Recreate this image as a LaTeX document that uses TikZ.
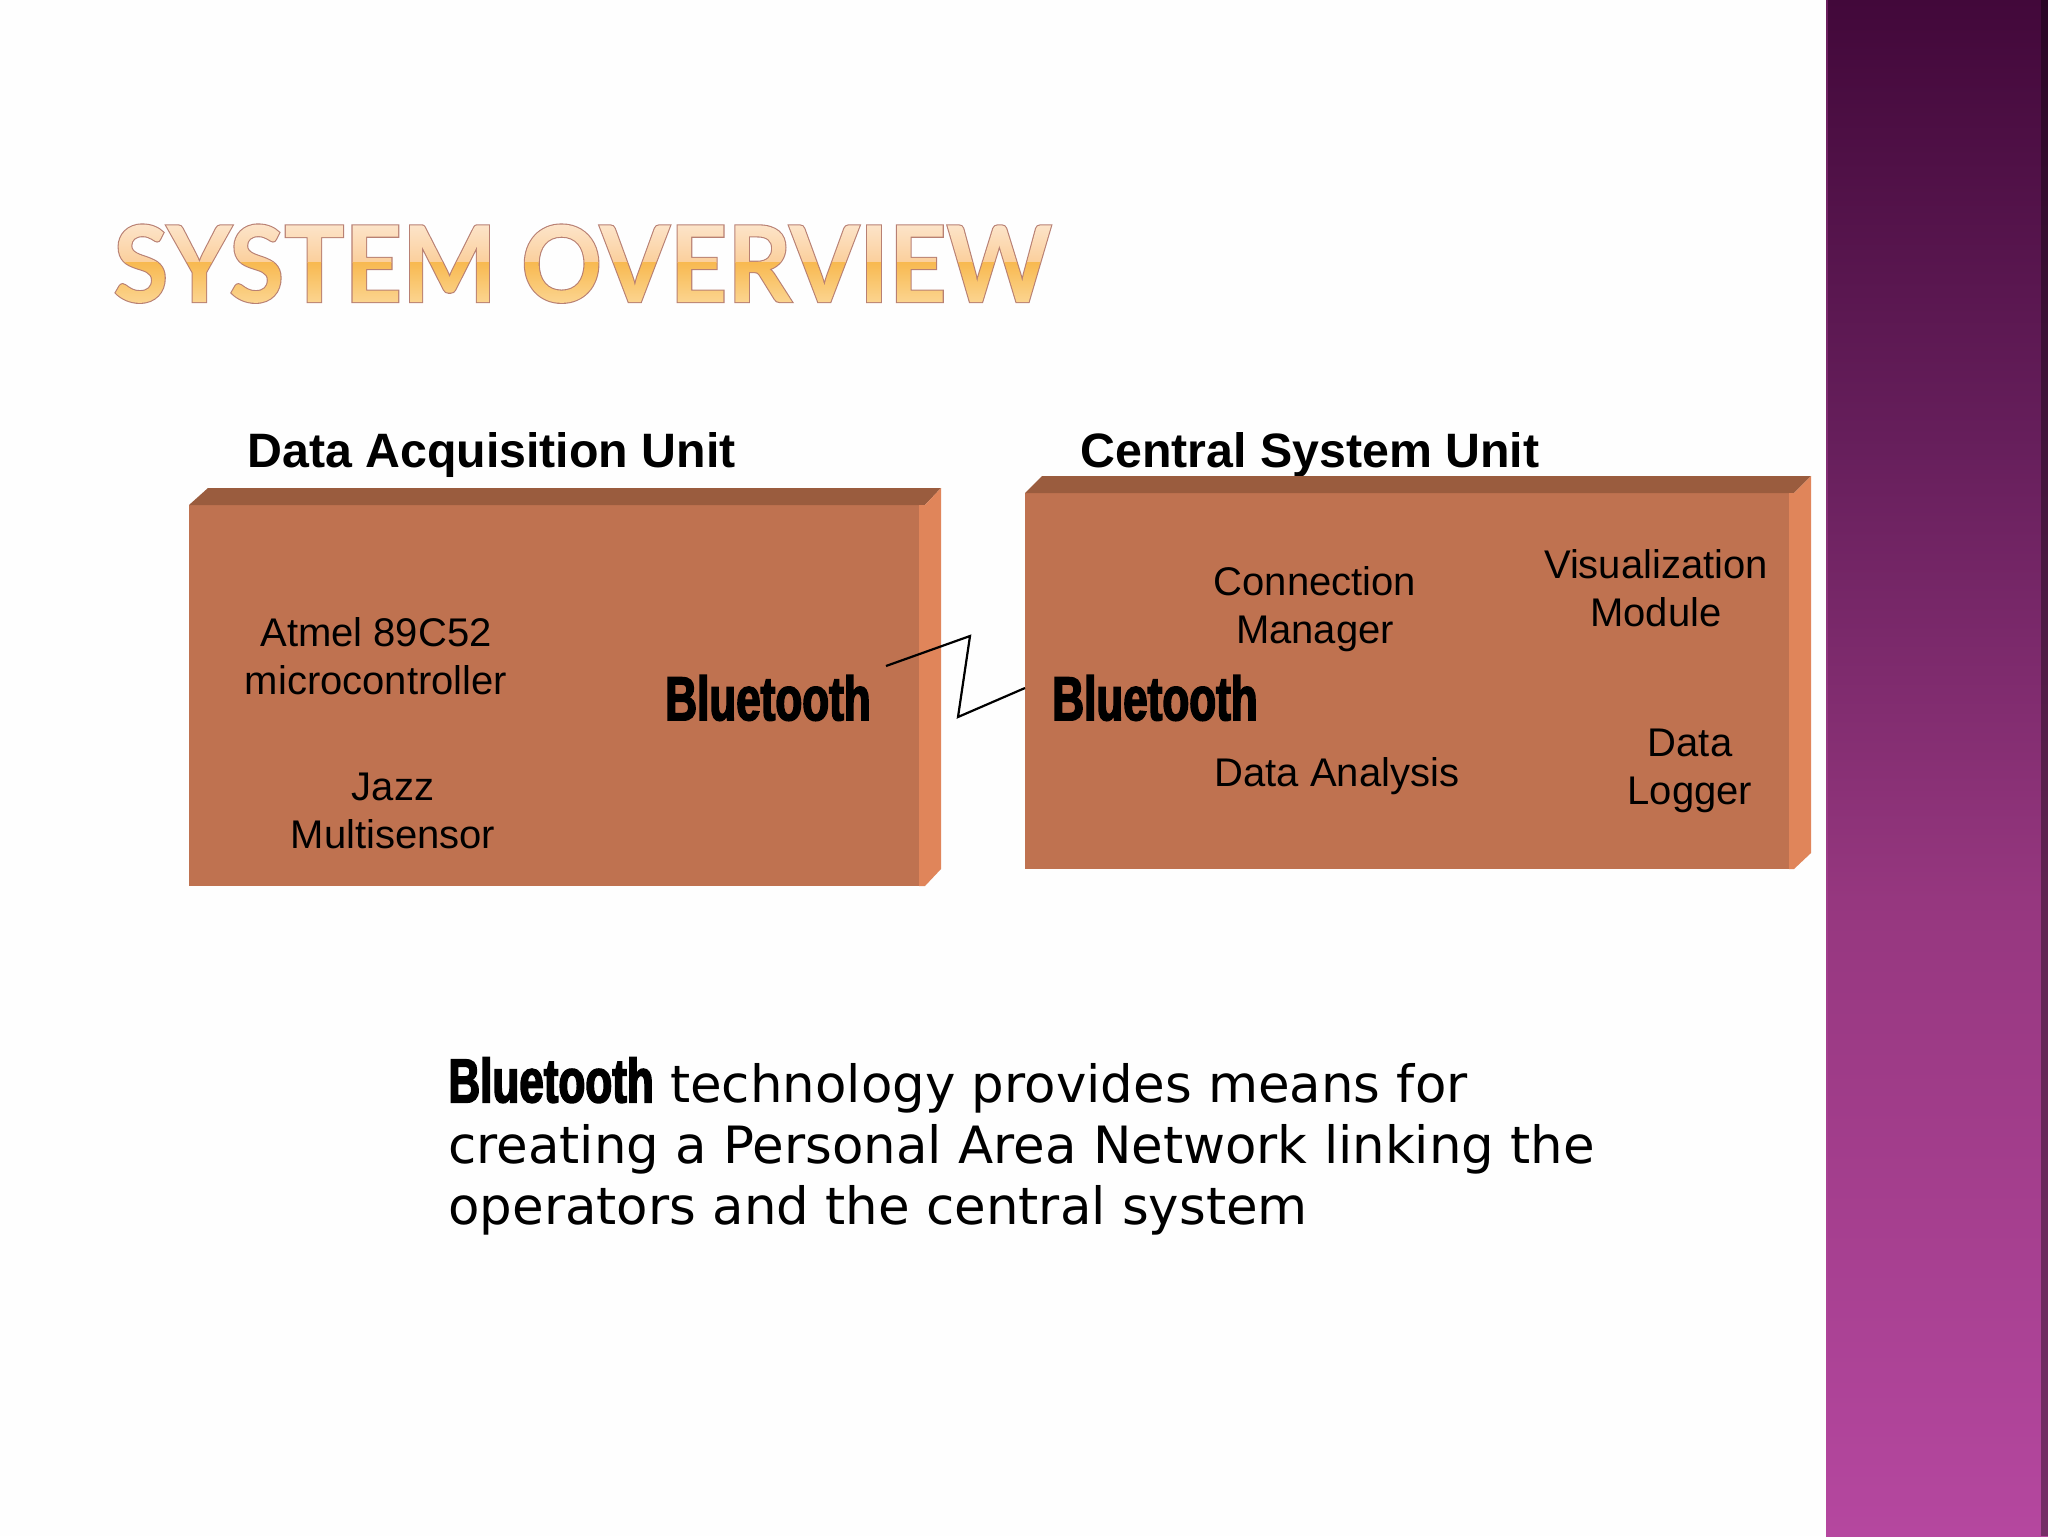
\documentclass[tikz,border=0pt]{standalone}
\usepackage{fontspec}
\setmainfont{Liberation Sans}
\newfontfamily\bodyfont{DejaVu Sans}
\newfontfamily\titlefont[FakeStretch=0.946]{Lato Bold}
\newfontfamily\blfont[FakeStretch=0.71,FakeBold=2.5]{Liberation Sans Bold}
\definecolor{frontc}{HTML}{BF7250}
\definecolor{topc}{HTML}{9A5C3E}
\definecolor{sidec}{HTML}{E0855A}
\definecolor{p0}{HTML}{42083A}
\definecolor{p1}{HTML}{671F5C}
\definecolor{p2}{HTML}{96377F}
\definecolor{p3}{HTML}{B5479F}
\definecolor{bgc}{HTML}{FEFEFE}
\pgfdeclareverticalshading{panelshade}{100bp}{color(0bp)=(p3);color(25bp)=(p3);color(45.7bp)=(p2);color(60.35bp)=(p1);color(75bp)=(p0);color(100bp)=(p0)}
\newcommand{\titlepaint}{%
\begin{tikzpicture}[overlay]
\path[top color=titleA,bottom color=titleB] (-600pt,20pt) rectangle (10pt,44pt);
\path[top color=titleC,bottom color=titleD] (-600pt,-5pt) rectangle (10pt,20pt);
\end{tikzpicture}}
\definecolor{titleA}{HTML}{FDEAD6}
\definecolor{titleB}{HTML}{FBCF9C}
\definecolor{titleC}{HTML}{F8B950}
\definecolor{titleD}{HTML}{FCDB9F}
\tikzset{
 frontbox/.style={fill=frontc,anchor=north west,inner sep=0pt,outer sep=0pt},
 lbl/.style={align=center,font=\fontsize{20}{24}\selectfont,inner sep=0pt},
 head/.style={anchor=base west,font=\bfseries\fontsize{24.15}{28}\selectfont,inner sep=0pt},
 bl/.style={font=\blfont\fontsize{31}{36}\selectfont,inner sep=0pt},
 zig/.style={draw=black,line width=1.1pt,line join=miter}
}
\begin{document}
\begin{tikzpicture}[x=0.5pt,y=-0.5pt]
\useasboundingbox (0,0) rectangle (2048,1536);
\fill[bgc] (0,0) rectangle (2048,1536);
% side panel
\path[shading=panelshade] (1826,0) rectangle (2048,1536);
\fill[p3,opacity=.35] (1826,0) rectangle (1828,1536);
\fill[black,opacity=.35] (2041,0) rectangle (2048,1536);
% title
\node[anchor=base west,inner sep=0pt] (title) at (113,302) {\titlefont\fontsize{53}{60}\selectfont\special{pdf:code 6 Tr 1.1 w 0.72 0.50 0.45 RG 0.98 0.8 0.6 rg}SYSTEM OVERVIEW\special{pdf:code 0 Tr}\titlepaint};
% headings
\node[head] (h1) at (247,467) {Data Acquisition Unit};
\node[head] (h2) at (1080,467) {Central System Unit};
% left box
\node[frontbox,minimum width=365pt,minimum height=190.5pt] (box1) at (189,505) {};
\fill[topc] (box1.north west) -- (208,488) -- (941,488) -- (925,505) -- cycle;
\fill[sidec] (919,505) -- (925,505) -- (941,488) -- (941,869) -- (925,886) -- (919,886) -- cycle;
% right box
\node[frontbox,minimum width=382pt,minimum height=188pt] (box2) at (1025,493) {};
\fill[topc] (box2.north west) -- (1042,476) -- (1811,476) -- (1794,493) -- cycle;
\fill[sidec] (1789,493) -- (1794,493) -- (1811,476) -- (1811,853) -- (1794,869) -- (1789,869) -- cycle;
% labels
\node[lbl] (atmel) at (376,656) {Atmel 89C52\\microcontroller};
\node[lbl] (jazz) at (393,811) {Jazz\\Multisensor};
\node[bl] (bt1) at (768,698) {Bluetooth};
\node[bl] (bt2) at (1155,698) {Bluetooth};
\node[lbl] (conn) at (1315,609) {Connection\\Manager};
\node[lbl] (vis) at (1656,588) {Visualization\\Module};
\node[lbl] (ana) at (1337,776) {Data Analysis};
\node[lbl] (log) at (1690,771) {Data\\Logger};
% link
\coordinate (z1) at (886,666);
\coordinate (z2) at (970,636);
\coordinate (z3) at (958,717);
\coordinate (z4) at (box2.west |- 0,688);
\draw[zig] (z1) -- (z2) -- (z3) -- (z4);
% body text
\node[anchor=north west,inner sep=0pt,align=left,font=\bodyfont\fontsize{25.7}{30.5}\selectfont] (body) at (448,1057) {{\blfont\fontsize{31}{30.5}\selectfont Bluetooth} technology provides means for\\creating a Personal Area Network linking the\\operators and the central system};
\end{tikzpicture}
\end{document}
